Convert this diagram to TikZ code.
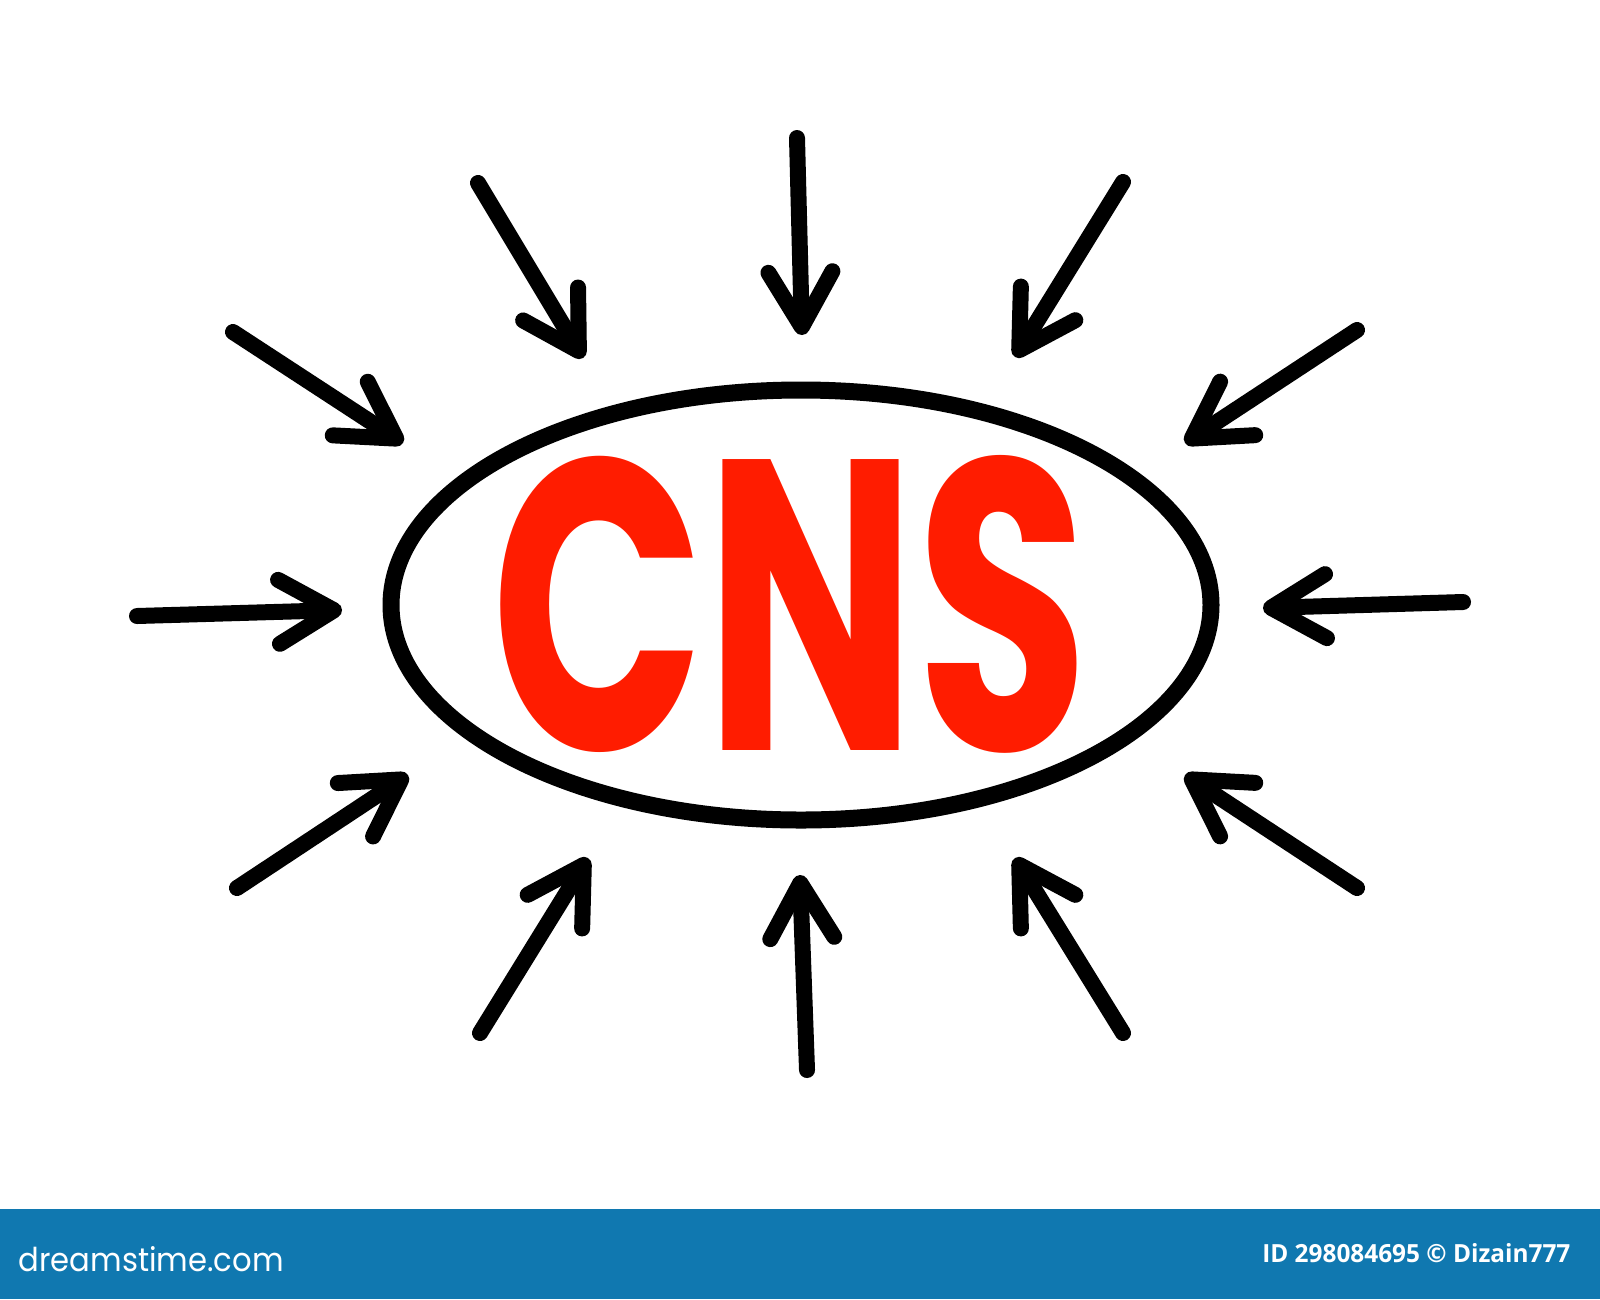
\documentclass[tikz,border=0pt]{standalone}
\usepackage{fontspec}
\usetikzlibrary{shapes.geometric, arrows.meta, positioning}
\newfontfamily\cnsfont{Poppins}
\newfontfamily\sitefont{Poppins}
\newfontfamily\idfont{Open Sans}
\definecolor{cnsred}{RGB}{255,28,0}
\definecolor{bannerblue}{RGB}{16,120,176}

\begin{document}
\begin{tikzpicture}[
  inarrow/.style={line width=1.6mm, line cap=round, -{Straight Barb[length=5.5mm, width=6.4mm, round]}},
  ]
\useasboundingbox (0,0) rectangle (16,-12.99);
\fill[white] (0,0) rectangle (16,-12.99);

% Central oval
\node[draw, ellipse, line width=1.7mm, minimum width=8.2cm, minimum height=4.3cm] (oval) at (8.01,-6.05) {};
\node[text=cnsred] (cns) at (7.90,-6.04) {\resizebox{5.97cm}{2.95cm}{\cnsfont\bfseries CNS}};

% Arrow tails and heads
\coordinate (top-t) at (7.97,-1.38);      \coordinate (top-h) at (8.02,-3.35);
\coordinate (topleft-t) at (4.78,-1.83);  \coordinate (topleft-h) at (5.83,-3.58);
\coordinate (topright-t) at (11.23,-1.82); \coordinate (topright-h) at (10.15,-3.57);
\coordinate (upleft-t) at (2.33,-3.32);   \coordinate (upleft-h) at (4.03,-4.43);
\coordinate (upright-t) at (13.57,-3.30); \coordinate (upright-h) at (11.85,-4.43);
\coordinate (left-t) at (1.37,-6.16);     \coordinate (left-h) at (3.42,-6.10);
\coordinate (right-t) at (14.63,-6.02);   \coordinate (right-h) at (12.63,-6.08);
\coordinate (lowleft-t) at (2.37,-8.88);  \coordinate (lowleft-h) at (4.08,-7.75);
\coordinate (lowright-t) at (13.57,-8.88); \coordinate (lowright-h) at (11.85,-7.75);
\coordinate (botleft-t) at (4.80,-10.33); \coordinate (botleft-h) at (5.88,-8.58);
\coordinate (bottom-t) at (8.07,-10.70);  \coordinate (bottom-h) at (8.00,-8.75);
\coordinate (botright-t) at (11.23,-10.33); \coordinate (botright-h) at (10.15,-8.58);

% Arrows pointing in
\draw[inarrow] (top-t) -- (top-h);
\draw[inarrow] (topleft-t) -- (topleft-h);
\draw[inarrow] (topright-t) -- (topright-h);
\draw[inarrow] (upleft-t) -- (upleft-h);
\draw[inarrow] (upright-t) -- (upright-h);
\draw[inarrow] (left-t) -- (left-h);
\draw[inarrow] (right-t) -- (right-h);
\draw[inarrow] (lowleft-t) -- (lowleft-h);
\draw[inarrow] (lowright-t) -- (lowright-h);
\draw[inarrow] (botleft-t) -- (botleft-h);
\draw[inarrow] (bottom-t) -- (bottom-h);
\draw[inarrow] (botright-t) -- (botright-h);

% Banner
\fill[bannerblue] (0,-12.09) rectangle (16,-12.99);
\node[anchor=south west, inner sep=0pt, text=white] (site) at (0.18,-12.72) {\resizebox{2.65cm}{0.25cm}{\sitefont dreamstime.com}};
\node[anchor=south east, inner sep=0pt, text=white] (imgid) at (15.71,-12.63) {\resizebox{3.08cm}{0.19cm}{\idfont\bfseries ID 298084695 © Dizain777}};
\end{tikzpicture}
\end{document}
